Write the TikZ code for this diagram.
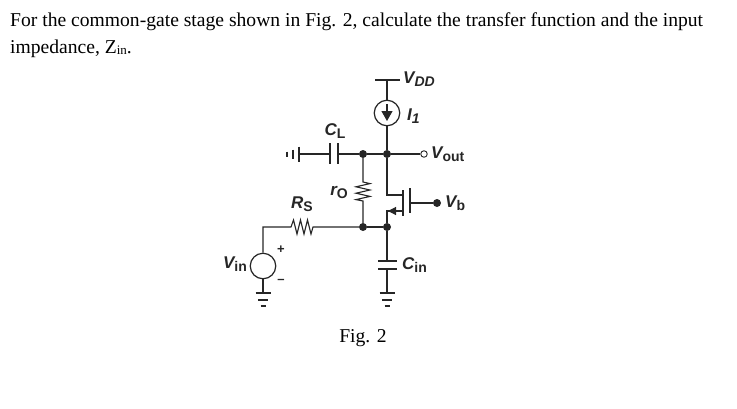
\documentclass[tikz,border=0pt]{standalone}
\usepackage{fontspec}
\setmainfont{Liberation Serif}
\setsansfont{Liberation Sans}
\usetikzlibrary{arrows.meta,calc}
\definecolor{wirecol}{gray}{0.15}
\tikzset{
    wire/.style={draw=wirecol,line width=1.1pt},
    plate/.style={draw=wirecol,line width=2pt},
    dot/.style={shape=circle,fill=wirecol,inner sep=0pt,minimum size=8pt},
    hollow/.style={shape=circle,draw=wirecol,fill=white,line width=0.9pt,inner sep=0pt,minimum size=6.5pt},
    source/.style={shape=circle,draw=wirecol,fill=white,line width=1.2pt,inner sep=0pt,minimum size=25.5pt},
    sym/.style={font=\sffamily\itshape\bfseries\fontsize{17}{17}\selectfont,text=wirecol,inner sep=0pt},
    prose/.style={font=\fontsize{19.6}{19.6}\selectfont,anchor=base west,inner sep=0pt,text=black},
    sign/.style={font=\sffamily\bfseries\fontsize{13}{13}\selectfont,text=wirecol,inner sep=0pt}
}
% subscripts, nearly as large as the letter
\newcommand{\lowsub}[1]{\raisebox{-3pt}{\fontsize{14}{14}\selectfont #1}}
% ground symbol, opens downwards
\newcommand{\gnddown}[1]{
    \draw[plate] ($(#1)+(-7.5,0)$) -- ($(#1)+(7.5,0)$);
    \draw[plate] ($(#1)+(-5,6.5)$) -- ($(#1)+(5,6.5)$);
    \draw[plate] ($(#1)+(-2.5,12.5)$) -- ($(#1)+(2.5,12.5)$);
}
\begin{document}
\begin{tikzpicture}[x=1pt,y=-1pt]
\useasboundingbox (0,0) rectangle (737,408);
% text
\node[prose] (line1) at (10,26.5) {For the common-gate stage shown in Fig. 2, calculate the transfer function and the input};
\node[prose] (line2) at (10,53) {impedance, Z\raisebox{-1pt}{\fontsize{13}{13}\selectfont in}.};
\node[prose,anchor=base] (fig) at (363,342) {Fig. 2};

% nodes
\node[source] (isrc) at (387,113) {};
\node[source] (vsrc) at (263,266) {};
\node[dot] (outa) at (363,154) {};
\node[dot] (outb) at (387,154) {};
\node[dot] (srca) at (363,227) {};
\node[dot] (srcb) at (387,227) {};
\node[hollow] (outp) at (424,154) {};
\node[dot] (gate) at (437,203) {};
\coordinate (vdd) at (387,80);
\coordinate (corner) at (263,227);
\coordinate (gndl) at (299,154);
\coordinate (clr) at (338,154);
\coordinate (cll) at (330,154);
\coordinate (cint) at (387,261);
\coordinate (cinb) at (387,269);
\coordinate (gndc) at (387,293);
\coordinate (gndv) at (263,293);
\coordinate (rsl) at (291,227);
\coordinate (rsr) at (313,227);
\coordinate (rot) at (363,182);
\coordinate (rob) at (363,201);
\coordinate (drain) at (403,195);
\coordinate (source) at (403,211);

% supply and output wires
\draw[plate] (375,80) -- (400,80);
\draw[wire] (vdd) -- (isrc);
\draw[wire] (isrc) -- (outb);
\draw[wire] (outb) -- (outa);
\draw[wire] (outa) -- (clr);
\draw[wire] (outb) -- (outp);
\draw[wire] (gndl) -- (cll);
\draw[plate] (330,143) -- (330,164);
\draw[plate] (338,143) -- (338,164);
\draw[wire,-{Triangle[length=10pt,width=11pt]}] (387,104) -- (387,121);
% ground at the left of C_L
\draw[plate] (299,146.5) -- (299,161.5);
\draw[plate] (293,149.5) -- (293,158.5);
\draw[plate] (287,151.5) -- (287,156.5);

% r_O
\draw[wire] (outa) -- (rot) -- ++(7,1.6) -- ++(-14,3.2) -- ++(14,3.2) -- ++(-14,3.2) -- ++(14,3.2) -- ++(-14,3.2) -- (rob) -- (srca);
% transistor
\draw[wire] (outb) -- (387,195) -- (drain);
\draw[plate] (403,190) -- (403,216);
\draw[plate] (410,188) -- (410,213);
\draw[wire] (410,203) -- (gate);
\draw[wire] (srcb) -- (387,211) -- (source);
\draw[wire,-{Triangle[length=8pt,width=8pt]}] (397,211) -- (388,211);

% R_S and source
\draw[wire] (vsrc) -- (corner) -- (rsl) -- ++(2.5,-7) -- ++(3.5,14) -- ++(3.5,-14) -- ++(3.5,14) -- ++(3.5,-14) -- ++(3.5,14) -- ++(2,-7) -- (rsr) -- (srca);
\draw[wire] (srca) -- (srcb);
\draw[wire] (vsrc) -- (gndv);
\gnddown{gndv}

% C_in
\draw[wire] (srcb) -- (cint);
\draw[plate] (378,261) -- (397,261);
\draw[plate] (378,269) -- (397,269);
\draw[wire] (cinb) -- (gndc);
\gnddown{gndc}

% labels
\node[sym,anchor=west] (vddl) at (403,79) {V\lowsub{DD}};
\node[sym,anchor=west] (ilab) at (407,116) {I\lowsub{1}};
\node[sym] (cllab) at (335,131) {C\lowsub{\upshape L}};
\node[sym,anchor=west] (voutl) at (431,154) {V\lowsub{\upshape out}};
\node[sym] (rolab) at (339,192) {r\lowsub{\upshape O}};
\node[sym] (rslab) at (302,204) {R\lowsub{\upshape S}};
\node[sym,anchor=west] (vblab) at (445,203) {V\lowsub{\upshape b}};
\node[sym,anchor=west] (cinl) at (402,265) {C\lowsub{\upshape in}};
\node[sym,anchor=east] (vinl) at (247,264) {V\lowsub{\upshape in}};
\node[sign] (plus) at (281,250) {+};
\node[sign] (minus) at (281,281) {--};
\end{tikzpicture}
\end{document}
